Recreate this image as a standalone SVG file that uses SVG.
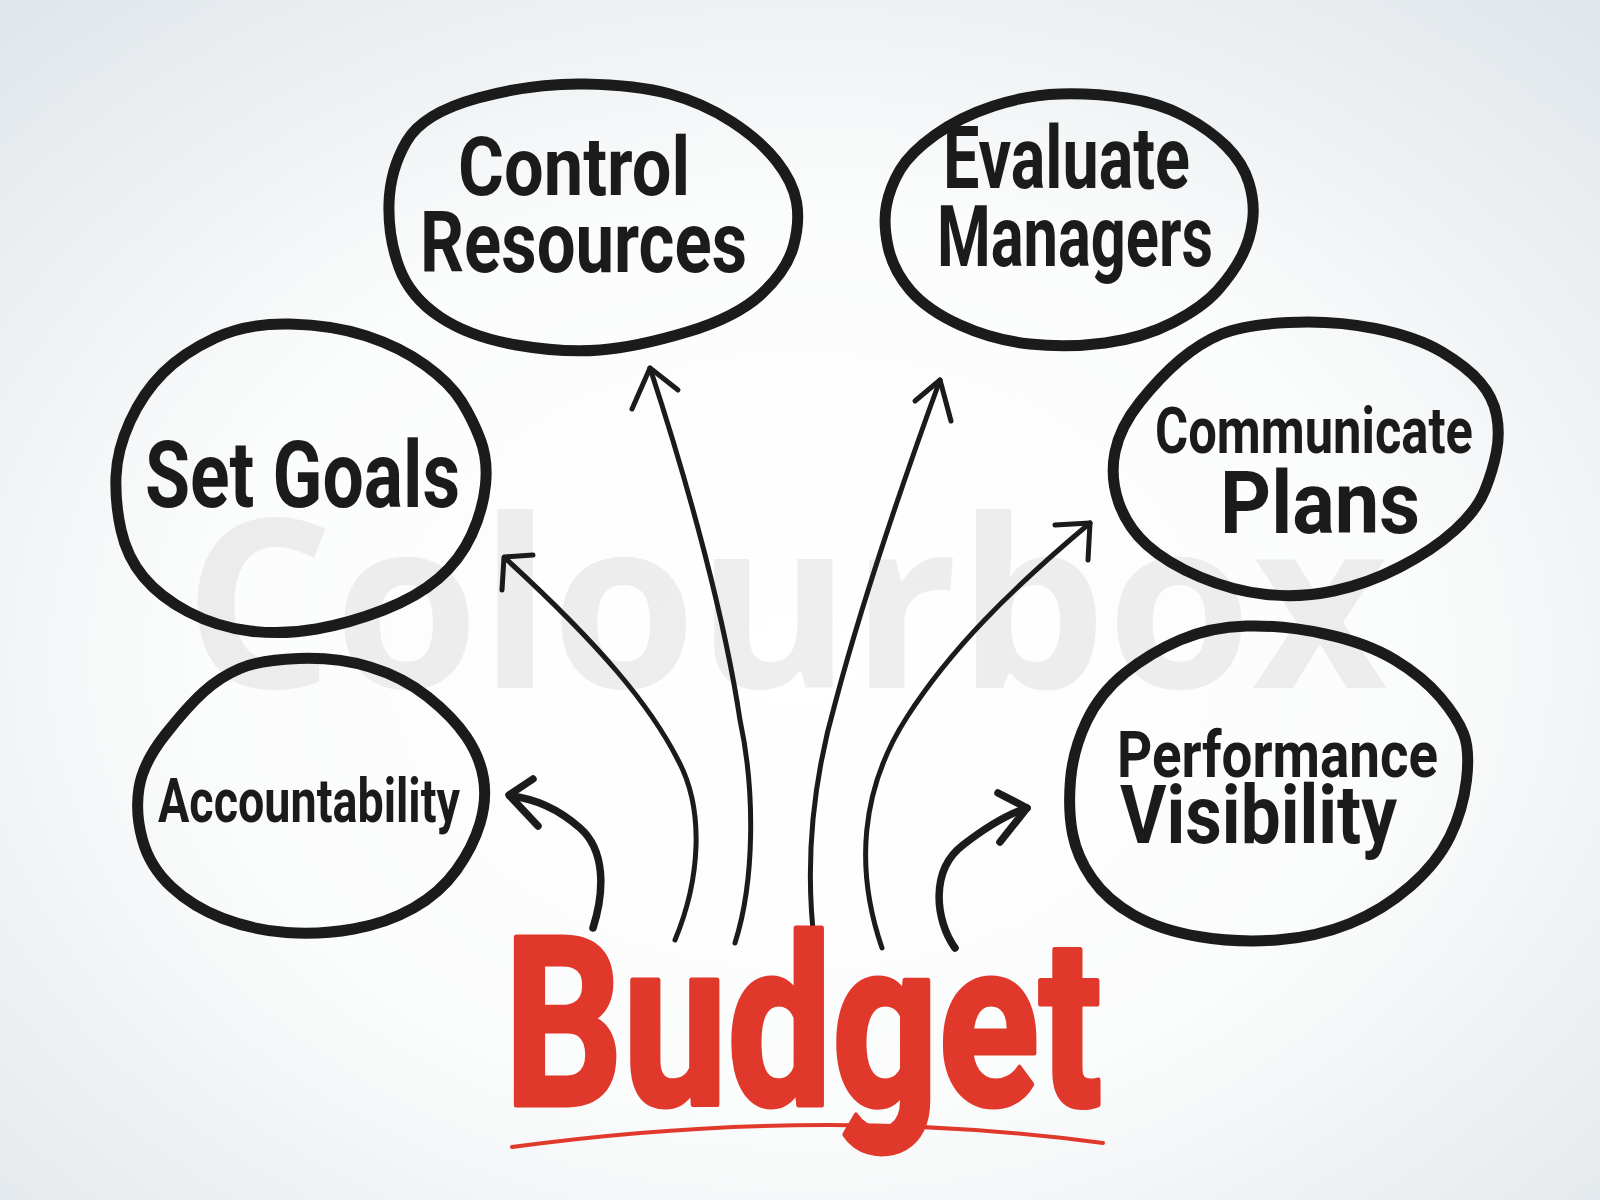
<svg xmlns="http://www.w3.org/2000/svg" width="1600" height="1200" viewBox="0 0 1600 1200">
  <defs>
    <radialGradient id="bg" cx="50%" cy="55%" r="75%">
      <stop offset="0" stop-color="#ffffff"/>
      <stop offset="0.5" stop-color="#fbfcfc"/>
      <stop offset="1" stop-color="#dfe5ea"/>
    </radialGradient>
    <style>
      .bubble { fill: none; stroke: #1c1b1b; stroke-width: 11; stroke-linejoin: round; stroke-linecap: round; }
      .lbl { font-family: Roboto, "Open Sans", "Liberation Sans", sans-serif; font-weight: 700; fill: #1c1b1b; }
      .thin { fill: none; stroke: #1c1b1b; stroke-width: 5; stroke-linecap: round; stroke-linejoin: round; }
      .thick { fill: none; stroke: #1c1b1b; stroke-width: 7.5; stroke-linecap: round; stroke-linejoin: round; }
      .title { font-family: Roboto, "Open Sans", "Liberation Sans", sans-serif; font-weight: 700; fill: #e0392c; stroke: #e0392c; stroke-width: 5; stroke-linejoin: round; }
      .wm { font-family: "Open Sans", "Liberation Sans", sans-serif; font-weight: 700; fill: #d9d9d9; fill-opacity: 0.45; }
    </style>
  </defs>

  <rect x="0" y="0" width="1600" height="1200" fill="url(#bg)"/>

  <text class="wm" x="184" y="688" font-size="235" textLength="1204" lengthAdjust="spacingAndGlyphs">Colourbox</text>

  <g id="node-control-resources">
    <path class="bubble" d="M478 98 Q533 83 585 84 Q637 85 670 94 Q703 103 731.5 121.5 Q760 140 776.5 161 Q793 182 796.5 202 Q800 222 793.5 246 Q787 270 762 293.5 Q737 317 687 332 Q637 347 600 350 Q563 353 516.5 345 Q470 337 440 317 Q410 297 399 267 Q388 237 389 203.5 Q390 170 406.5 141.5 Q423 113 478 98 Z"/>
    <text class="lbl"><tspan x="458" y="195" font-size="82" textLength="232" lengthAdjust="spacingAndGlyphs">Control</tspan><tspan x="420" y="272" font-size="86" textLength="327" lengthAdjust="spacingAndGlyphs">Resources</tspan></text>
  </g>

  <g id="node-evaluate-managers">
    <path class="bubble" d="M935 135 Q960 117 993.5 106 Q1027 95 1060 94 Q1093 93 1126.5 98 Q1160 103 1185 116.5 Q1210 130 1226.5 146.5 Q1243 163 1249 183 Q1255 203 1252.5 221.5 Q1250 240 1241.5 256.5 Q1233 273 1218 290 Q1203 307 1173 322.5 Q1143 338 1105 343 Q1067 348 1030 344 Q993 340 960 325 Q927 310 910 290 Q893 270 888 246.5 Q883 223 886.5 205 Q890 187 900 170 Q910 153 935 135 Z"/>
    <text class="lbl"><tspan x="943" y="188" font-size="88" textLength="247" lengthAdjust="spacingAndGlyphs">Evaluate</tspan><tspan x="937" y="266" font-size="86" textLength="276" lengthAdjust="spacingAndGlyphs">Managers</tspan></text>
  </g>

  <g id="node-set-goals">
    <path class="bubble" d="M163 373 Q183 353 215 338 Q247 323 290 324 Q333 325 366.5 336 Q400 347 425 365 Q450 383 461.5 401.5 Q473 420 480.5 440 Q488 460 485.5 485 Q483 510 471.5 535 Q460 560 438.5 578.5 Q417 597 383.5 610 Q350 623 316.5 629 Q283 635 250 631 Q217 627 188.5 612 Q160 597 143.5 577 Q127 557 121 530 Q115 503 116 476.5 Q117 450 130 421.5 Q143 393 163 373 Z"/>
    <text class="lbl" x="145" y="507" font-size="92" textLength="315" lengthAdjust="spacingAndGlyphs">Set Goals</text>
  </g>

  <g id="node-communicate-plans">
    <path class="bubble" d="M1180 360 Q1200 343 1221.5 334 Q1243 325 1288 322.5 Q1333 320 1375 328.5 Q1417 337 1442 352 Q1467 367 1480 382 Q1493 397 1496.5 415 Q1500 433 1496.5 451.5 Q1493 470 1485 490 Q1477 510 1455 530 Q1433 550 1400 567 Q1367 584 1333.5 591 Q1300 598 1266.5 594.5 Q1233 591 1200 577 Q1167 563 1147 545 Q1127 527 1118.5 502 Q1110 477 1115 452 Q1120 427 1140 402 Q1160 377 1180 360 Z"/>
    <text class="lbl"><tspan x="1155" y="453" font-size="64" textLength="318" lengthAdjust="spacingAndGlyphs">Communicate</tspan><tspan x="1220" y="533" font-size="88" textLength="200" lengthAdjust="spacingAndGlyphs">Plans</tspan></text>
  </g>

  <g id="node-accountability">
    <path class="bubble" d="M203.5 692 Q220 677 240 668.5 Q260 660 298.5 658.5 Q337 657 370 667 Q403 677 428 697 Q453 717 466.5 737 Q480 757 483.5 778.5 Q487 800 480 823.5 Q473 847 456.5 870 Q440 893 413.5 908 Q387 923 353.5 929 Q320 935 286.5 932.5 Q253 930 223 918.5 Q193 907 171.5 887 Q150 867 142.5 840 Q135 813 139 788 Q143 763 165 735 Q187 707 203.5 692 Z"/>
    <text class="lbl" x="158" y="822" font-size="62" textLength="302" lengthAdjust="spacingAndGlyphs">Accountability</text>
  </g>

  <g id="node-performance-visibility">
    <path class="bubble" d="M1125 673 Q1150 653 1180 640 Q1210 627 1246.5 626 Q1283 625 1325 634 Q1367 643 1395 660 Q1423 677 1440 697 Q1457 717 1463.5 733.5 Q1470 750 1466.5 780 Q1463 810 1450 836.5 Q1437 863 1410 886.5 Q1383 910 1350 923.5 Q1317 937 1277 940 Q1237 943 1198.5 936.5 Q1160 930 1133.5 915 Q1107 900 1092 878.5 Q1077 857 1072.5 833.5 Q1068 810 1070.5 780 Q1073 750 1086.5 721.5 Q1100 693 1125 673 Z"/>
    <text class="lbl"><tspan x="1117" y="777" font-size="64" textLength="321" lengthAdjust="spacingAndGlyphs">Performance</tspan><tspan x="1120" y="843" font-size="82" textLength="277" lengthAdjust="spacingAndGlyphs">Visibility</tspan></text>
  </g>

  <g id="connectors">
    <path class="thick" d="M593 928 C605 890 605 850 580 828 S530 798 510 796"/>
    <path class="thick" d="M533 779 L509 795 L538 826"/>
    <path class="thin" d="M675 940 C700 880 705 810 678 760 C650 705 600 645 505 558"/>
    <path class="thin" d="M533 555 L504 557 L502 590"/>
    <path class="thin" d="M735 943 C755 880 755 790 740 720 C725 620 690 490 650 368"/>
    <path class="thin" d="M632 409 L650 368 L678 390"/>
    <path class="thin" d="M815 948 C805 870 810 790 836 700 C860 610 900 490 940 380"/>
    <path class="thin" d="M915 401 L940 380 L951 421"/>
    <path class="thin" d="M882 948 C855 870 860 790 907 717 C950 650 1010 590 1090 523"/>
    <path class="thin" d="M1055 525 L1090 523 L1088 560"/>
    <path class="thick" d="M955 948 C935 920 930 870 963 845 C985 828 1005 815 1027 808"/>
    <path class="thick" d="M998 793 L1027 808 L1000 842"/>
  </g>

  <g id="node-budget">
    <text class="title" x="504" y="1105" font-size="235" textLength="598" lengthAdjust="spacingAndGlyphs">Budget</text>
    <path d="M512 1147 Q820 1105 1103 1143" fill="none" stroke="#e0392c" stroke-width="4" stroke-linecap="round"/>
  </g>
</svg>
